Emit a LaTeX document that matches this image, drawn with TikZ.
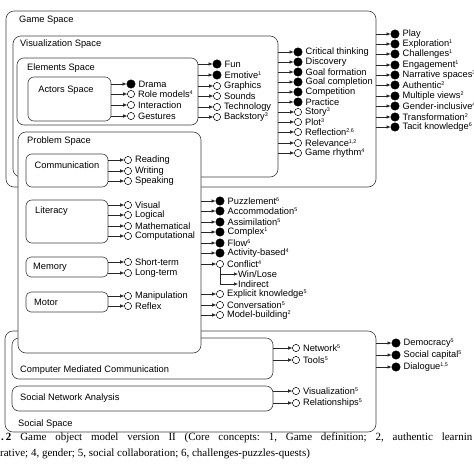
\documentclass[tikz,border=0pt]{standalone}
\usepackage{fontspec}
\setmainfont{Liberation Sans}
\newfontfamily\capfont{Liberation Serif}
\usetikzlibrary{fit,arrows.meta}
\newcommand{\supnum}[1]{\raisebox{3.4pt}{\fontsize{5.4}{5.4}\selectfont #1}}

\begin{document}
\begin{tikzpicture}[x=1pt,y=-1pt,
    box/.style={draw=black!75,fill=white,rounded corners=8pt,inner sep=0pt,line width=0.6pt},
    title/.style={anchor=west,inner sep=0pt,font=\fontsize{9.3}{11}\selectfont},
    full/.style={circle,draw,fill=black,minimum size=8.4pt,inner sep=0pt,line width=0.5pt},
    open/.style={circle,draw,fill=white,minimum size=7.2pt,inner sep=0pt,line width=0.5pt},
    every label/.style={inner sep=0pt,font=\fontsize{9.3}{11}\selectfont},
    label distance=3pt,
    link/.style={-{Latex[length=4pt,width=3.6pt]},line width=0.6pt,black!85}]
  \useasboundingbox (0,0) rectangle (474,474);
  % game space
  \node[box,fit={(6,11) (376,187)}] (game) {};
  \node[title] (gamet) at (19,20) {Game Space};
  \node[box,fit={(13,36) (278,177)}] (vis) {};
  \node[title] (vist) at (20,44) {Visualization Space};
  \node[box,rounded corners=7pt,fit={(17,58) (198,125)}] (elem) {};
  \node[title] (elemt) at (27,68) {Elements Space};
  \node[box,rounded corners=6pt,fit={(28,77) (111,121)}] (actors) {};
  \node[title,anchor=center] (actorst) at (66,90) {Actors Space};
  \foreach \y/\t/\s [count=\i] in {84/Drama/full,94/Role models\supnum{4}/open,
      105/Interaction/open,116/Gestures/open}
    {\node[\s,label={right:\t}] (act\i) at (131,\y) {};
     \draw[link] (actors.east |- act\i) -- (act\i);}
  \foreach \y/\t/\s [count=\i] in {64/Fun/full,75/Emotive\supnum{1}/full,86/Graphics/open,
      96/Sounds/open,107/Technology/open,117/Backstory\supnum{3}/open}
    {\node[\s,label={right:\t}] (ele\i) at (217,\y) {};
     \draw[link] (elem.east |- ele\i) -- (ele\i);}
  \foreach \y/\t/\s [count=\i] in {52/Critical thinking/full,62/Discovery/full,72/Goal formation/full,
      82/Goal completion/full,92/Competition/full,102/Practice/full,112/Story\supnum{3}/open,
      122/Plot\supnum{3}/open,132/Reflection\supnum{2,6}/open,
      143/Relevance\supnum{1,2}/open,153/Game rhythm\supnum{4}/open}
    {\node[\s,label={right:\t}] (vis\i) at (298,\y) {};
     \draw[link] (vis.east |- vis\i) -- (vis\i);}
  \foreach \y/\t [count=\i] in {34/Play,44/Exploration\supnum{1},54/Challenges\supnum{1},
      65/Engagement\supnum{1},75/Narrative spaces\supnum{3},85/Authentic\supnum{2},
      96/Multiple views\supnum{2},106/Gender-inclusive\supnum{4},
      117/Transformation\supnum{2},127/Tacit knowledge\supnum{6}}
    {\node[full,label={right:\t}] (gam\i) at (395,\y) {};
     \draw[link] (game.east |- gam\i) -- (gam\i);}

  % social space
  \node[box,fit={(5,331) (376,432)}] (social) {};
  \node[title] (socialt) at (18,424) {Social Space};
  \node[box,rounded corners=7pt,fit={(12,338) (273,379)}] (cmc) {};
  \node[title] (cmct) at (20,370) {Computer Mediated Communication};
  \node[box,rounded corners=7pt,fit={(12,386) (273,411)}] (sna) {};
  \node[title] (snat) at (20,398) {Social Network Analysis};
  \foreach \y/\t [count=\i] in {348/Network\supnum{5},360/Tools\supnum{5}}
    {\node[open,label={right:\t}] (cmc\i) at (296,\y) {};
     \draw[link] (cmc.east |- cmc\i) -- (cmc\i);}
  \foreach \y/\t [count=\i] in {391/Visualization\supnum{5},403/Relationships\supnum{5}}
    {\node[open,label={right:\t}] (sna\i) at (296,\y) {};
     \draw[link] (sna.east |- sna\i) -- (sna\i);}
  \foreach \y/\t [count=\i] in {343/Democracy\supnum{5},355/Social capital\supnum{5},
      367/Dialogue\supnum{1,5}}
    {\node[full,label={right:\t}] (soc\i) at (396,\y) {};
     \draw[link] (social.east |- soc\i) -- (soc\i);}

  % problem space
  \node[box,fit={(18,132) (201,353)}] (prob) {};
  \node[title] (probt) at (27,141) {Problem Space};
  \node[box,rounded corners=6pt,fit={(26,154) (108,187)}] (comm) {};
  \node[title,anchor=center] (commt) at (67,165) {Communication};
  \node[box,rounded corners=6pt,fit={(26,200) (108,243)}] (lit) {};
  \node[title] (litt) at (35,211) {Literacy};
  \node[box,rounded corners=5pt,fit={(26,257) (108,277)}] (mem) {};
  \node[title] (memt) at (33,267) {Memory};
  \node[box,rounded corners=5pt,fit={(26,292) (108,312)}] (motor) {};
  \node[title] (motort) at (34,302) {Motor};
  \foreach \y/\t [count=\i] in {160/Reading,171/Writing,181/Speaking}
    {\node[open,label={right:\t}] (com\i) at (128,\y) {};
     \draw[link] (comm.east |- com\i) -- (com\i);}
  \foreach \y/\t [count=\i] in {205/Visual,215/Logical,226/Mathematical,236/Computational}
    {\node[open,label={right:\t}] (lit\i) at (128,\y) {};
     \draw[link] (lit.east |- lit\i) -- (lit\i);}
  \foreach \y/\t [count=\i] in {262/Short-term,273/Long-term}
    {\node[open,label={right:\t}] (mem\i) at (128,\y) {};
     \draw[link] (mem.east |- mem\i) -- (mem\i);}
  \foreach \y/\t [count=\i] in {296/Manipulation,306/Reflex}
    {\node[open,label={right:\t}] (mot\i) at (128,\y) {};
     \draw[link] (motor.east |- mot\i) -- (mot\i);}
  \foreach \y/\t/\s [count=\i] in {201/Puzzlement\supnum{6}/full,211/Accommodation\supnum{5}/full,
      222/Assimilation\supnum{5}/full,232/Complex\supnum{1}/full,243/Flow\supnum{6}/full,
      253/Activity-based\supnum{4}/full,264/Conflict\supnum{4}/open,
      294/Explicit knowledge\supnum{5}/open,305/Conversation\supnum{5}/open,
      315/Model-building\supnum{2}/open}
    {\node[\s,label={right:\t}] (pro\i) at (220,\y) {};
     \draw[link] (prob.east |- pro\i) -- (pro\i);}
  \node[title] (winlose) at (238,274) {Win/Lose};
  \node[title] (indirect) at (238,284) {Indirect};
  \draw[link] (pro7.south) |- (winlose.west);
  \draw[link] (pro7.south) |- (indirect.west);

  % caption
  \node[anchor=west,inner sep=0pt,font=\capfont\fontsize{11}{13}\selectfont] (cap1) at (1,438)
    {\spaceskip=8.8pt\xspaceskip=8.8pt\relax\textbf{.\,2}\hspace{9pt}Game object model version II (Core concepts: 1, Game definition; 2, authentic learnin};
  \node[anchor=west,inner sep=0pt,font=\capfont\fontsize{11}{13}\selectfont] (cap2) at (0,454)
    {rative; 4, gender; 5, social collaboration; 6, challenges-puzzles-quests)};
\end{tikzpicture}
\end{document}
